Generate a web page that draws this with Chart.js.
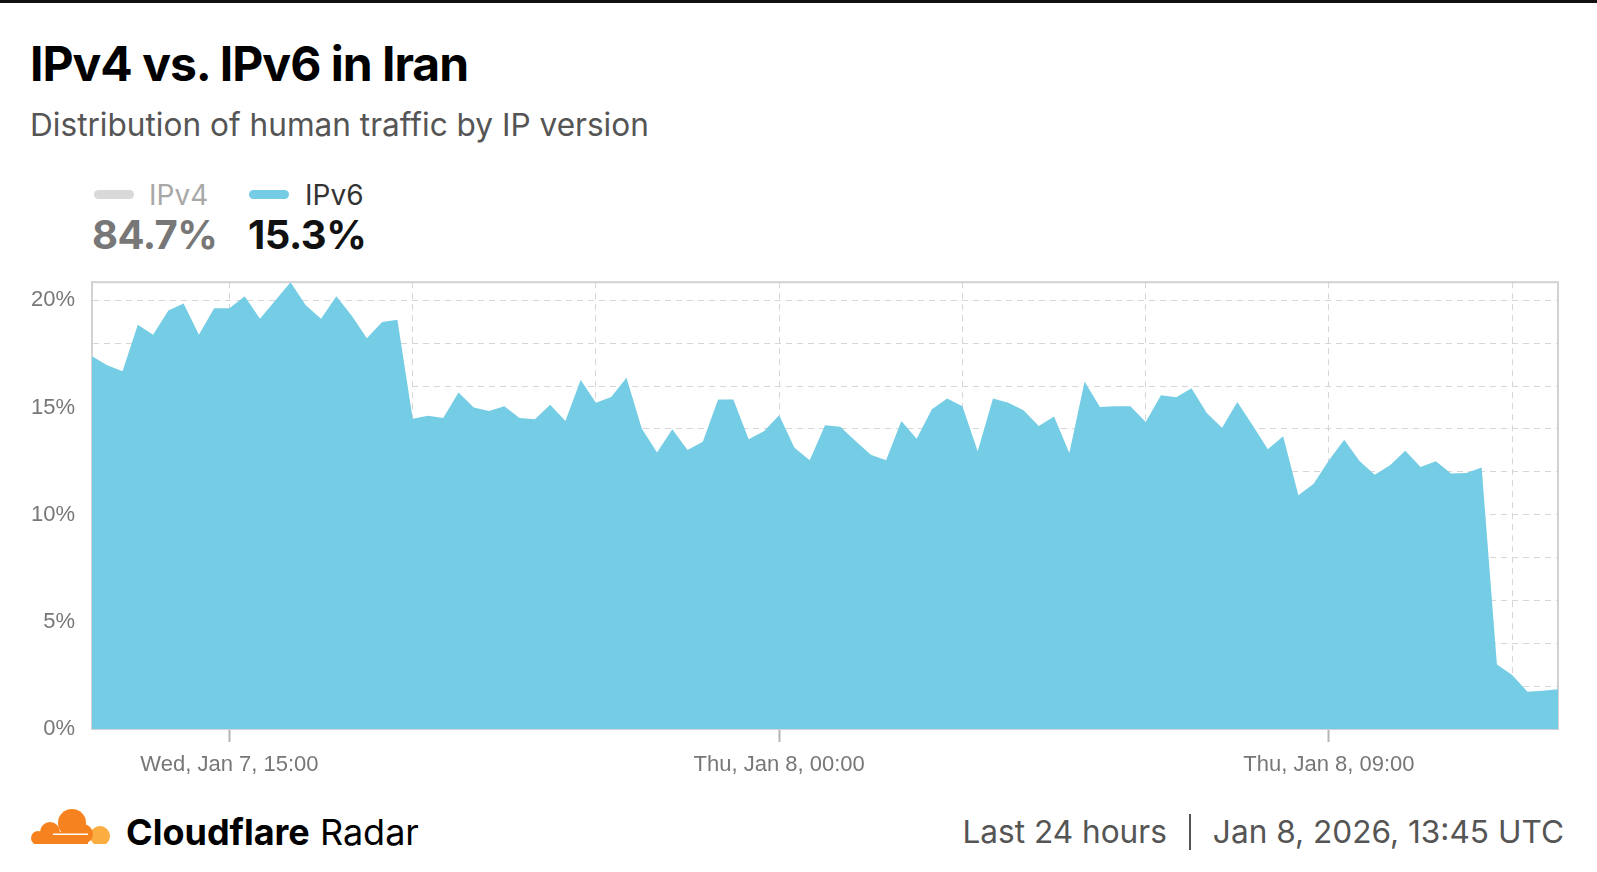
<!DOCTYPE html>
<html>
<head>
<meta charset="utf-8">
<title>IPv4 vs. IPv6 in Iran</title>
<script src="https://cdn.jsdelivr.net/npm/chart.js@4.4.1/dist/chart.umd.min.js"></script>
<style>
  html, body { margin: 0; padding: 0; background: #fff; }
  body { width: 1597px; height: 872px; position: relative; overflow: hidden; font-family: Inter, "Noto Sans", sans-serif; }
  .topbar { position: absolute; left: 0; top: 0; width: 1597px; height: 3px; background: #111; }
  .txt { position: absolute; white-space: nowrap; line-height: 1; }
  #title { left: 30px; top: 40px; font-size: 48px; font-weight: 700; color: #000; letter-spacing: -1px; }
  #subtitle { left: 30px; top: 109px; font-size: 31.6px; color: #555; }
  .pill { position: absolute; width: 40px; height: 9px; border-radius: 5px; top: 190px; }
  .leg { font-size: 28px; top: 181px; }
  .num { font-size: 40px; font-weight: 700; top: 215px; letter-spacing: -0.5px; }
  #chartBox { position: absolute; left: 0; top: 252px; width: 1597px; height: 548px; }
  #brand { left: 126px; top: 814px; font-size: 36px; color: #000; }
  #brand b { font-weight: 700; }
  #stamp { right: 33px; top: 814px; font-size: 31.6px; color: #555; display: flex; align-items: center; }
  #stamp .sep { display: inline-block; width: 2px; height: 36px; background: #555; margin: 0 22px; }
  #logo { position: absolute; left: 28px; top: 806px; }
</style>
</head>
<body>
<div class="topbar"></div>
<div class="txt" id="title">IPv4 vs. IPv6 in Iran</div>
<div class="txt" id="subtitle">Distribution of human traffic by IP version</div>

<div class="pill" style="left:94px;background:#d9d9d9"></div>
<div class="txt leg" style="left:149px;color:#a8a8a8">IPv4</div>
<div class="pill" style="left:249px;background:#74cde4"></div>
<div class="txt leg" style="left:305px;color:#333">IPv6</div>
<div class="txt num" style="left:92px;color:#777">84.7%</div>
<div class="txt num" style="left:248px;color:#111">15.3%</div>

<div id="chartBox"><canvas id="trafficChart"></canvas></div>

<svg id="logo" width="84" height="40" viewBox="0 0 84 40">
  <defs><clipPath id="cut"><rect x="0" y="0" width="84" height="38"/></clipPath></defs>
  <g clip-path="url(#cut)">
    <circle cx="72" cy="30" r="10" fill="#fbad41"/>
    <g fill="#f6821f">
      <circle cx="44" cy="17" r="14"/>
      <circle cx="22" cy="26" r="10"/>
      <circle cx="10" cy="32" r="7"/>
      <circle cx="55" cy="28" r="10"/>
      <rect x="8" y="26" width="52" height="14"/>
    </g>
    <rect x="25" y="27.5" width="35" height="1.5" fill="#fff"/>
  </g>
</svg>
<div class="txt" id="brand"><b>Cloudflare</b> Radar</div>
<div class="txt" id="stamp"><span>Last 24 hours</span><span class="sep"></span><span>Jan 8, 2026, 13:45 UTC</span></div>

<script>
// 15-minute buckets, Jan 7 12:45 -> Jan 8 12:45 UTC
const timeLabels = [
    'Jan 7 12:45',
    'Jan 7 13:00', 'Jan 7 13:15', 'Jan 7 13:30', 'Jan 7 13:45',
    'Jan 7 14:00', 'Jan 7 14:15', 'Jan 7 14:30', 'Jan 7 14:45',
    'Jan 7 15:00', 'Jan 7 15:15', 'Jan 7 15:30', 'Jan 7 15:45',
    'Jan 7 16:00', 'Jan 7 16:15', 'Jan 7 16:30', 'Jan 7 16:45',
    'Jan 7 17:00', 'Jan 7 17:15', 'Jan 7 17:30', 'Jan 7 17:45',
    'Jan 7 18:00', 'Jan 7 18:15', 'Jan 7 18:30', 'Jan 7 18:45',
    'Jan 7 19:00', 'Jan 7 19:15', 'Jan 7 19:30', 'Jan 7 19:45',
    'Jan 7 20:00', 'Jan 7 20:15', 'Jan 7 20:30', 'Jan 7 20:45',
    'Jan 7 21:00', 'Jan 7 21:15', 'Jan 7 21:30', 'Jan 7 21:45',
    'Jan 7 22:00', 'Jan 7 22:15', 'Jan 7 22:30', 'Jan 7 22:45',
    'Jan 7 23:00', 'Jan 7 23:15', 'Jan 7 23:30', 'Jan 7 23:45',
    'Jan 8 00:00', 'Jan 8 00:15', 'Jan 8 00:30', 'Jan 8 00:45',
    'Jan 8 01:00', 'Jan 8 01:15', 'Jan 8 01:30', 'Jan 8 01:45',
    'Jan 8 02:00', 'Jan 8 02:15', 'Jan 8 02:30', 'Jan 8 02:45',
    'Jan 8 03:00', 'Jan 8 03:15', 'Jan 8 03:30', 'Jan 8 03:45',
    'Jan 8 04:00', 'Jan 8 04:15', 'Jan 8 04:30', 'Jan 8 04:45',
    'Jan 8 05:00', 'Jan 8 05:15', 'Jan 8 05:30', 'Jan 8 05:45',
    'Jan 8 06:00', 'Jan 8 06:15', 'Jan 8 06:30', 'Jan 8 06:45',
    'Jan 8 07:00', 'Jan 8 07:15', 'Jan 8 07:30', 'Jan 8 07:45',
    'Jan 8 08:00', 'Jan 8 08:15', 'Jan 8 08:30', 'Jan 8 08:45',
    'Jan 8 09:00', 'Jan 8 09:15', 'Jan 8 09:30', 'Jan 8 09:45',
    'Jan 8 10:00', 'Jan 8 10:15', 'Jan 8 10:30', 'Jan 8 10:45',
    'Jan 8 11:00', 'Jan 8 11:15', 'Jan 8 11:30', 'Jan 8 11:45',
    'Jan 8 12:00', 'Jan 8 12:15', 'Jan 8 12:30', 'Jan 8 12:45'
];

// IPv6 share of human traffic (%)
const ipv6Share = [
    17.39,
    16.97, 16.69, 18.87, 18.40,
    19.53, 19.86, 18.40, 19.63,
    19.64, 20.20, 19.15, 20.00,
    20.85, 19.77, 19.15, 20.19,
    19.30, 18.24, 18.99, 19.10,
    14.48, 14.62, 14.51, 15.70,
    15.00, 14.84, 15.06, 14.51,
    14.45, 15.13, 14.37, 16.29,
    15.23, 15.49, 16.39, 14.02,
    12.90, 13.99, 13.02, 13.40,
    15.38, 15.38, 13.52, 13.89,
    14.64, 13.12, 12.54, 14.17,
    14.11, 13.44, 12.80, 12.54,
    14.37, 13.55, 14.92, 15.42,
    15.06, 12.96, 15.42, 15.23,
    14.87, 14.14, 14.58, 12.88,
    16.22, 15.03, 15.06, 15.06,
    14.33, 15.57, 15.48, 15.90,
    14.75, 14.06, 15.26, 14.17,
    13.05, 13.66, 10.91, 11.45,
    12.54, 13.50, 12.51, 11.87,
    12.31, 12.98, 12.23, 12.49,
    11.92, 11.95, 12.20, 3.01,
    2.52, 1.74, 1.79, 1.85
];

// x-axis: dashed grid every 3 hours, labels every 9 hours
const gridTimes = ['Jan 7 15:00', 'Jan 7 18:00', 'Jan 7 21:00', 'Jan 8 00:00',
                   'Jan 8 03:00', 'Jan 8 06:00', 'Jan 8 09:00', 'Jan 8 12:00'];
const tickTexts = {
    'Jan 7 15:00': 'Wed, Jan 7, 15:00',
    'Jan 8 00:00': 'Thu, Jan 8, 00:00',
    'Jan 8 09:00': 'Thu, Jan 8, 09:00'
};

// y-axis: dashed grid every 2%, labels every 5%
const yGridValues = [2, 4, 6, 8, 10, 12, 14, 16, 18, 20];
const yLabelValues = [0, 5, 10, 15, 20];

const gridColor = '#d6d6d6';

// light frame around the plot area
const framePlugin = {
    id: 'frame',
    beforeDatasetsDraw(chart) {
        const { ctx, chartArea: a } = chart;
        ctx.save();
        ctx.strokeStyle = '#d2d2d2';
        ctx.lineWidth = 2;
        ctx.strokeRect(a.left, a.top, a.right - a.left, a.bottom - a.top);
        ctx.restore();
    }
};

Chart.defaults.font.family = '"Liberation Sans", Arial, sans-serif';
Chart.defaults.font.size = 22;
Chart.defaults.color = '#777';

const chartCtx = document.getElementById('trafficChart').getContext('2d');
const trafficChart = new Chart(chartCtx, {
    type: 'line',
    data: {
        labels: timeLabels,
        datasets: [{
            label: 'IPv6',
            data: ipv6Share,
            fill: 'origin',
            backgroundColor: '#74cde4',
            borderWidth: 0,
            pointRadius: 0,
            tension: 0
        }]
    },
    options: {
        responsive: true,
        maintainAspectRatio: false,
        animation: false,
        layout: { padding: { top: 0, right: 39, left: 0, bottom: 0 } },
        plugins: {
            legend: { display: false },
            tooltip: { enabled: false }
        },
        scales: {
            x: {
                type: 'category',
                offset: false,
                border: { display: true, color: '#cfcfcf', width: 2, dash: [6, 5] },
                grid: {
                    drawOnChartArea: true,
                    drawTicks: true,
                    tickLength: 13,
                    lineWidth: 1,
                    tickBorderDash: [],
                    tickWidth: 2,
                    color: (c) => gridTimes.includes(timeLabels[c.tick.value]) ? gridColor : 'rgba(0,0,0,0)',
                    tickColor: (c) => tickTexts[timeLabels[c.tick.value]] ? '#b5b5b5' : 'rgba(0,0,0,0)'
                },
                ticks: {
                    autoSkip: false,
                    maxRotation: 0,
                    padding: 10,
                    callback: (value) => tickTexts[timeLabels[value]] || ''
                },
                afterFit: (scale) => { scale.height = 71; }
            },
            y: {
                min: 0,
                max: Math.max(...ipv6Share),
                border: { display: true, color: '#d2d2d2', width: 2, dash: [6, 5] },
                grid: {
                    drawTicks: false,
                    color: (c) => yGridValues.includes(c.tick.value) ? gridColor : 'rgba(0,0,0,0)'
                },
                ticks: {
                    padding: 17,
                    callback: (value) => yLabelValues.includes(value) ? value + '%' : ''
                },
                afterBuildTicks: (scale) => {
                    const vals = [...new Set([...yLabelValues, ...yGridValues])].sort((a, b) => a - b);
                    scale.ticks = vals.map(v => ({ value: v }));
                },
                afterFit: (scale) => { scale.width = 92; }
            }
        }
    },
    plugins: [framePlugin]
});
</script>
</body>
</html>
